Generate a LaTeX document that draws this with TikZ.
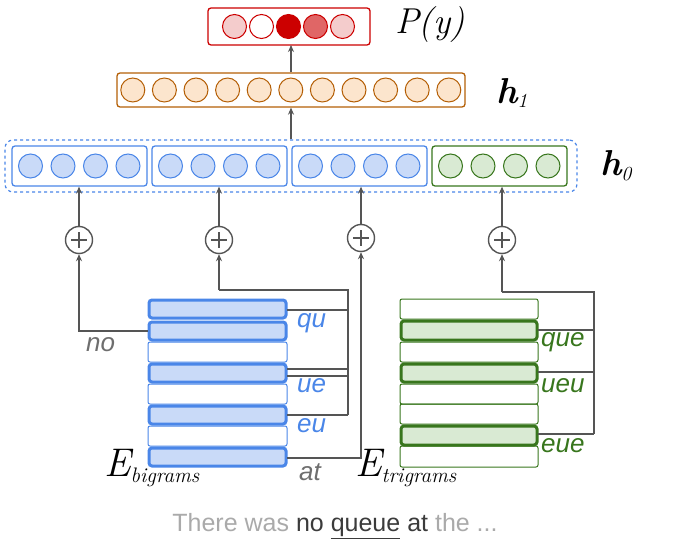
\documentclass[tikz,border=0pt]{standalone}
\usepackage{fontspec}
\setsansfont{Liberation Sans}
\usetikzlibrary{arrows.meta}
\definecolor{bl}{HTML}{4A86E8}\definecolor{blf}{HTML}{C9DAF8}
\definecolor{gr}{HTML}{38761D}\definecolor{grf}{HTML}{D9EAD3}
\definecolor{orc}{HTML}{B45F06}\definecolor{orf}{HTML}{FCE5CD}
\definecolor{rd}{HTML}{CC0000}\definecolor{rdf}{HTML}{F4CCCC}\definecolor{rdm}{HTML}{E06666}
\definecolor{ln}{HTML}{555555}\definecolor{lg}{HTML}{AAAAAA}
\begin{document}
\begin{tikzpicture}[x=1pt,y=-1pt,
 conn/.style={draw=ln,line width=1.3pt},
 arr/.style={conn,-{Stealth[length=7pt,width=6pt]}},
 plusn/.style={circle,draw=ln,line width=1.4pt,minimum size=27pt,inner sep=0pt},
 lab/.style={font=\sffamily\itshape\fontsize{26}{26}\selectfont,anchor=west,inner sep=0pt},
 cir/.style={circle,line width=1pt,minimum size=24pt,inner sep=0pt}]
\useasboundingbox (0,0) rectangle (686,551);
% output
\draw[rd,line width=1.3pt,fill=white,rounded corners=3pt] (208,8) rectangle (370,45);
\foreach \c [count=\i] in {rdf,white,rd,rdm,rdf}
  \node[cir,draw=rd,fill=\c] (o\i) at (208+\i*27-0.5,26.5) {};
\node[font=\itshape\fontsize{36}{36}\selectfont] (py) at (430,25) {P(y)};
% h1
\node[draw=orc,line width=1.3pt,rounded corners=3pt,minimum width=348pt,minimum height=34pt] (h1) at (291,90) {};
\foreach \i in {1,...,11}
  \node[cir,draw=orc,fill=orf] at (117+\i*31.6-15.8,90) {};
\node[font=\bfseries\itshape\fontsize{36}{36}\selectfont] (h1l) at (512,93) {h\textsubscript{\normalfont\itshape\fontsize{20}{20}\selectfont 1}};
% h0
\node[draw=bl,dashed,line width=1.2pt,rounded corners=8pt,minimum width=572pt,minimum height=52pt] (h0) at (291,166) {};
\foreach \g/\cd/\cf in {1/bl/blf,2/bl/blf,3/bl/blf,4/gr/grf}{
  \node[draw=\cd,line width=1.3pt,rounded corners=3pt,minimum width=135pt,minimum height=40pt] (g\g) at (79.5+\g*140-140,166) {};
  \foreach \i in {1,...,4}
    \node[cir,draw=\cd,fill=\cf] at (12+\g*140-140+\i*32.5-14,166) {};
}
\node[font=\bfseries\itshape\fontsize{36}{36}\selectfont] (h0l) at (616,166) {h\textsubscript{\normalfont\itshape\fontsize{20}{20}\selectfont 0}};
\coordinate (otop) at (291,45);
\draw[arr] (h0.north) -- (h1.south);
\draw[arr] (h1.north) -- (otop);
% pluses
\foreach \n/\x/\y in {p1/79/240,p2/219/240,p3/361/238,p4/502/240}{
  \node[plusn] (\n) at (\x,\y) {};
  \draw[ln,line width=1.6pt] (\x-8,\y) -- (\x+8,\y) (\x,\y-8) -- (\x,\y+8);}
\foreach \i in {1,...,4} \draw[arr] (p\i.north) -- (p\i |- g\i.south);
% bigram table
\foreach \t/\b/\f in {299/319/1,321/341/1,342/362/0,363/383/1,384/404/0,405/425/1,426/446/0,447/467/1}{
  \ifnum\f=1 \draw[bl,fill=blf,line width=3pt,rounded corners=3pt] (149,\t+1) rectangle (286,\b-1);
  \else \draw[bl,line width=1pt,rounded corners=2pt] (148,\t) rectangle (287,\b); \fi}
\coordinate (bq) at (287,310); \coordinate (bn) at (148,331);
\coordinate (bu1) at (287,369); \coordinate (bu2) at (287,376);
\coordinate (be) at (287,415); \coordinate (ba) at (287,458);
\draw[conn] (bn) -| (79,300);
\draw[arr] (79,300) -- (p1.south);
\draw[conn] (bq) -- (348,310) (bu1) -- (348,369) (bu2) -- (348,376) (be) -- (348,415);
\draw[conn] (348,415) -- (348,290) -- (219,290);
\draw[arr] (219,290) -- (p2.south);
\draw[conn] (ba) -- (361,458) -- (361,300);
\draw[arr] (361,300) -- (p3.south);
\node[lab,text=bl] at (297,323) {qu};
\node[lab,text=bl] at (297,386) {ue};
\node[lab,text=bl] at (297,426) {eu};
\node[lab,text=ln!85] at (299,472) {at};
\node[lab,text=ln!85] at (86,345) {no};
\node[anchor=west,inner sep=0pt,font=\itshape\fontsize{40}{40}\selectfont] at (104,468) {E\textsubscript{\fontsize{21}{21}\selectfont bigrams}};
% trigram table
\foreach \t/\b/\f in {299/319/0,320/341/1,342/362/0,363/383/1,384/404/0,404/424/0,425/446/1,446/467/0}{
  \ifnum\f=1 \draw[gr,fill=grf,line width=3pt,rounded corners=3pt] (401,\t+1) rectangle (537,\b-1);
  \else \draw[gr,line width=1pt,rounded corners=2pt] (400,\t) rectangle (538,\b); \fi}
\draw[conn] (538,330) -- (594,330) (538,372) -- (594,372) (538,434) -- (594,434);
\draw[conn] (594,434) -- (594,292) -- (502,292);
\draw[arr] (502,292) -- (p4.south);
\node[lab,text=gr] at (541,342) {que};
\node[lab,text=gr] at (541,386) {ueu};
\node[lab,text=gr] at (541,446) {eue};
\node[anchor=west,inner sep=0pt,font=\itshape\fontsize{40}{40}\selectfont] at (355,468) {E\textsubscript{\fontsize{21}{21}\selectfont trigrams}};
% sentence
\node[font=\sffamily\fontsize{25}{25}\selectfont,text=lg] (sent) at (335,526) {There was \textcolor{ln!70!black}{no \underline{queue} at} the ...};
\end{tikzpicture}
\end{document}
